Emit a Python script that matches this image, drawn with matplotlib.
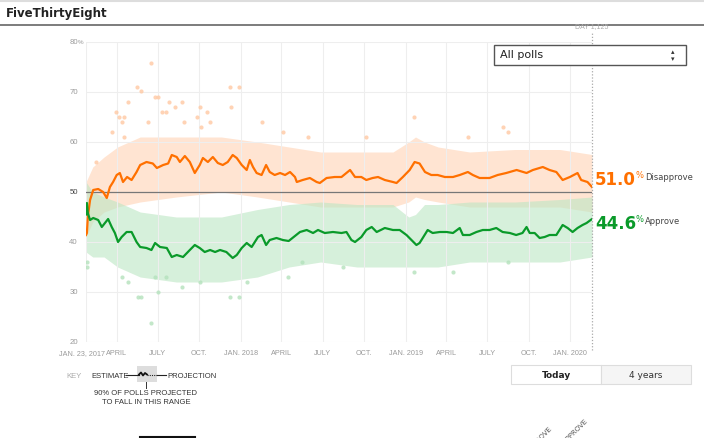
import numpy as np
import matplotlib
matplotlib.use('Agg')
import matplotlib.pyplot as plt
import matplotlib.transforms as mtransforms
from matplotlib.patches import Rectangle
from matplotlib.lines import Line2D

# days since Jan. 23, 2017
dis_days = [0, 2, 4, 9, 16, 27, 38, 46, 53, 60, 68, 75, 82, 91, 101, 112, 120, 134, 148, 157,
            171, 182, 190, 201, 208, 219, 230, 241, 252, 259, 270, 281, 292, 303, 314, 325, 334,
            345, 356, 363, 370, 378, 389, 399, 407, 418, 430, 441, 452, 463, 467, 480, 496, 511,
            518, 533, 551, 566, 585, 596, 610, 621, 635, 647, 662, 680, 688, 702, 717, 728, 739,
            751, 765, 779, 795, 813, 828, 846, 857, 872, 894, 912, 931, 954, 976, 990, 1012,
            1027, 1042, 1056, 1072, 1089, 1097, 1111, 1121]
disapprove = [41.4, 41.8, 45.0, 48.4, 50.4, 50.6, 50.0, 48.8, 51.0, 52.0, 53.4, 53.8, 52.0, 53.0,
              52.4, 54.0, 55.4, 56.0, 55.7, 54.8, 55.4, 55.7, 57.4, 57.0, 56.0, 57.2, 56.0, 53.8,
              55.4, 56.8, 56.0, 57.0, 55.8, 55.4, 56.0, 57.4, 56.8, 55.4, 54.4, 56.4, 55.0, 53.8,
              53.4, 55.4, 54.0, 53.4, 53.8, 53.4, 54.0, 53.0, 52.0, 52.4, 52.8, 52.0, 51.8, 52.8,
              53.0, 53.0, 54.4, 53.0, 53.0, 52.4, 52.8, 53.0, 52.4, 52.0, 51.8, 53.0, 54.4, 56.0,
              55.7, 54.0, 53.4, 53.4, 53.0, 53.0, 53.4, 54.0, 53.4, 52.8, 52.8, 53.4, 53.8, 54.4,
              53.8, 54.4, 55.0, 54.4, 54.0, 52.4, 53.0, 53.8, 52.4, 52.0, 51.0]

app_days = [0, 2, 4, 9, 16, 27, 35, 42, 49, 57, 64, 71, 79, 90, 101, 112, 120, 134, 145, 153,
            164, 179, 190, 201, 215, 230, 241, 252, 263, 275, 286, 297, 311, 325, 334, 345, 356,
            367, 381, 389, 399, 407, 422, 436, 449, 474, 489, 503, 514, 529, 547, 566, 577, 588,
            596, 610, 621, 633, 644, 662, 680, 695, 710, 721, 732, 739, 746, 757, 768, 784, 799,
            813, 828, 835, 850, 865, 879, 894, 909, 923, 939, 953, 967, 976, 983, 994, 1005,
            1016, 1027, 1042, 1056, 1067, 1078, 1089, 1100, 1109, 1121]
approve = [45.5, 47.8, 45.8, 44.4, 44.8, 44.4, 43.0, 43.8, 44.6, 43.0, 41.8, 40.0, 41.0, 42.0,
           42.0, 40.0, 39.0, 38.8, 38.4, 39.8, 39.0, 38.8, 37.0, 37.4, 37.0, 38.4, 39.4, 38.8,
           38.0, 38.4, 38.0, 38.4, 38.0, 36.8, 37.4, 38.8, 39.8, 39.0, 41.0, 41.4, 39.4, 40.4,
           40.8, 40.4, 40.2, 42.0, 42.4, 41.8, 42.4, 41.8, 42.0, 41.8, 42.0, 40.4, 40.0, 41.0,
           42.4, 43.0, 42.0, 42.8, 42.4, 42.4, 41.4, 40.4, 39.4, 39.8, 40.8, 42.4, 41.8, 42.0,
           42.0, 41.8, 42.8, 41.4, 41.4, 42.0, 42.4, 42.4, 42.8, 42.0, 41.8, 41.4, 41.8, 43.0,
           41.8, 41.8, 40.8, 41.0, 41.4, 41.4, 43.4, 42.8, 42.0, 42.8, 43.4, 43.8, 44.6]

# spread of individual polls
band_days = [0, 15, 40, 70, 120, 200, 300, 380, 450, 520, 600, 680, 715, 730, 750, 780, 850,
             950, 1050, 1121]
dis_lo = [41, 44, 46, 47, 48, 49, 50, 49, 48, 47, 47, 47, 48, 49, 48.5, 48, 47, 47, 47, 46]
dis_hi = [52, 55, 57, 59, 61, 61, 61, 60, 59, 58, 58, 58, 60, 61, 60, 59, 58, 58.5, 58.5, 57.5]
app_lo = [38, 37, 37, 35, 33, 32, 32, 33, 35, 36, 35, 35, 35, 35, 35, 35, 36, 36, 36, 37]
app_hi = [52, 50, 49, 48, 46, 45, 45, 46.5, 47.5, 48, 47.5, 47.5, 45, 45.5, 47.5, 47.5, 48, 48,
          48.5, 49]

# outlying polls
dis_out_days = [145, 114, 122, 153, 159, 66, 73, 84, 79, 94, 169, 177, 184, 197, 212, 218, 138,
                58, 84, 252, 245, 255, 267, 275, 319, 338, 321, 391, 436, 492, 621, 726, 846,
                923, 936, 22]
dis_out = [75.9, 71.1, 70.2, 69.1, 69.1, 66.1, 65, 65, 64, 68, 66, 66, 68, 67, 68, 64, 64, 62,
           61, 67, 65, 63, 66, 64, 71.1, 71.1, 67, 64, 62, 61, 61, 65, 61, 63, 62, 56]
app_out_days = [145, 116, 122, 160, 319, 338, 94, 153, 177, 212, 252, 356, 79, 2, 2, 448, 570,
                726, 812, 936, 478]
app_out = [23.9, 29.1, 29.1, 30.1, 29.1, 29.1, 32.1, 33.1, 33, 31, 32, 32, 33, 36, 35, 33, 35,
           34, 34, 36, 36]

tick_dates = ['2017-01-23', '2017-04-01', '2017-07-01', '2017-10-01', '2018-01-01',
              '2018-04-01', '2018-07-01', '2018-10-01', '2019-01-01', '2019-04-01',
              '2019-07-01', '2019-10-01', '2020-01-01']
tick_labels = ['JAN. 23, 2017', 'APRIL', 'JULY', 'OCT.', 'JAN. 2018', 'APRIL', 'JULY', 'OCT.',
               'JAN. 2019', 'APRIL', 'JULY', 'OCT.', 'JAN. 2020']

ORANGE = '#ff7000'
GREEN = '#0a9a2a'
W, H = 704, 438


def fx(x):
    return x / W


def fy(y):
    return 1 - y / H


fig = plt.figure(figsize=(W / 100, H / 100), dpi=100)
ax = fig.add_axes([fx(86), fy(342), (592 - 86) / W, 300 / H])

ax.fill_between(band_days, dis_lo, dis_hi, color='#ffcfad', alpha=0.55, lw=0, zorder=1)
ax.fill_between(band_days, app_lo, app_hi, color='#bce6c3', alpha=0.6, lw=0, zorder=1)
ax.scatter(dis_out_days, dis_out, s=9, color='#ffc9a3', alpha=0.8, lw=0, zorder=2)
ax.scatter(app_out_days, app_out, s=9, color='#b4e2bc', alpha=0.8, lw=0, zorder=2)
ax.axhline(50, color='#777777', lw=0.9, zorder=3)
ax.plot(dis_days, disapprove, color=ORANGE, lw=1.6, zorder=4)
ax.plot(app_days, approve, color=GREEN, lw=1.6, zorder=4)

t0 = np.datetime64('2017-01-23')
ticks = [(np.datetime64(d) - t0).astype(int) for d in tick_dates]
ax.set_xticks(ticks)
ax.set_xticklabels(tick_labels, family='Liberation Sans')
ax.set_yticks([20, 30, 40, 50, 60, 70, 80])
ax.set_yticklabels(['20', '30', '40', '50', '60', '70', '80'], family='Liberation Sans')
ax.set_xlim(0, 1121)
ax.set_ylim(20, 80)
ax.tick_params(length=0, labelsize=5.2, labelcolor='#9a9a9a')
ax.tick_params(axis='y', labelsize=5.6, pad=5.8)
ax.tick_params(axis='x', pad=6)
ax.get_yticklabels()[3].set_color('#444444')
# nudge the first date label so it clears "APRIL"
first = ax.get_xticklabels()[0]
first.set_transform(first.get_transform() +
                    mtransforms.ScaledTranslation(-4 / 100, 0, fig.dpi_scale_trans))
ax.grid(True, color='#eeeeee', lw=0.8, zorder=0)
for s in ax.spines.values():
    s.set_visible(False)
ax.text(-0.0158, 80, '%', transform=ax.get_yaxis_transform(), ha='left', va='center',
        fontsize=4.5, color='#9a9a9a', family='Liberation Sans')

# today line
ax.axvline(1121, ymin=-0.027, ymax=1.033, color='#aaaaaa', lw=0.9, ls=(0, (1, 1.5)),
           clip_on=False, zorder=5)
fig.text(fx(592), fy(27), 'DAY 1,125', ha='center', va='center', fontsize=5, color='#aaaaaa',
         family='Liberation Sans')

# header
fig.text(fx(6), fy(13), 'FiveThirtyEight', fontsize=8.5, fontweight='bold', color='#222222',
         va='center', ha='left')
fig.add_artist(Line2D([0, 1], [fy(25), fy(25)], color='#666666', lw=1.2))
fig.add_artist(Line2D([0, 1], [fy(0.5), fy(0.5)], color='#dddddd', lw=1.5))

# dropdown
fig.add_artist(Rectangle((fx(494), fy(65)), 192 / W, 20 / H, facecolor='white',
                         edgecolor='#555555', lw=1, zorder=10))
fig.text(fx(500), fy(55.5), 'All polls', fontsize=8, color='#222222', va='center', zorder=11)
fig.text(fx(673), fy(52), '\u25b4', fontsize=5, color='#333333', ha='center', va='center',
         zorder=11)
fig.text(fx(673), fy(59), '\u25be', fontsize=5, color='#333333', ha='center', va='center',
         zorder=11)

# end labels
fig.text(fx(595), fy(180), '%.1f' % disapprove[-1], fontsize=12, fontweight='bold',
         color=ORANGE, va='center', ha='left')
fig.text(fx(636), fy(175), '%', fontsize=6, color=ORANGE, va='center', ha='left')
fig.text(fx(645), fy(177), 'Disapprove', fontsize=6, color='#444444', va='center', ha='left')
fig.text(fx(595), fy(224), '%.1f' % approve[-1], fontsize=12, fontweight='bold',
         color=GREEN, va='center', ha='left')
fig.text(fx(636), fy(219), '%', fontsize=6, color=GREEN, va='center', ha='left')
fig.text(fx(645), fy(221), 'Approve', fontsize=6, color='#444444', va='center', ha='left')

# key
kf = dict(fontsize=5.5, va='center', family='Liberation Sans')
fig.text(fx(66), fy(376), 'KEY', color='#aaaaaa', **kf)
fig.text(fx(91), fy(376), 'ESTIMATE', color='#333333', **kf)
fig.text(fx(167), fy(376), 'PROJECTION', color='#333333', **kf)
fig.text(fx(146), fy(393.5), '90% OF POLLS PROJECTED', color='#333333', ha='center', **kf)
fig.text(fx(146), fy(402.5), 'TO FALL IN THIS RANGE', color='#333333', ha='center', **kf)
fig.add_artist(Rectangle((fx(137), fy(382)), 20 / W, 16 / H, facecolor='#dddddd', lw=0))
fig.add_artist(Line2D([fx(126), fx(139)], [fy(374.5), fy(374.5)], color='#222222', lw=0.8))
fig.add_artist(Line2D([fx(139), fx(141), fx(143), fx(145), fx(147)],
                      [fy(374.5), fy(372.5), fy(375.5), fy(373), fy(374.5)],
                      color='#111111', lw=1.3))
fig.add_artist(Line2D([fx(147), fx(157)], [fy(374.5), fy(374.5)], color='#222222', lw=0.8,
                      ls=(0, (1, 1))))
fig.add_artist(Line2D([fx(157), fx(166)], [fy(374.5), fy(374.5)], color='#222222', lw=0.8))
fig.add_artist(Line2D([fx(146), fx(146)], [fy(382), fy(388)], color='#333333', lw=0.7))

# time range buttons
fig.add_artist(Rectangle((fx(511), fy(384)), 90 / W, 19 / H, facecolor='white',
                         edgecolor='#dddddd', lw=0.8))
fig.add_artist(Rectangle((fx(601), fy(384)), 90 / W, 19 / H, facecolor='#f5f5f5',
                         edgecolor='#dddddd', lw=0.8))
fig.text(fx(556), fy(375), 'Today', fontsize=6.5, fontweight='bold', color='#222222',
         ha='center', va='center')
fig.text(fx(646), fy(375), '4 years', fontsize=6.5, color='#333333', ha='center', va='center')

# cut-off labels at bottom
fig.text(fx(553), fy(430), 'DISAPPROVE', rotation=45, rotation_mode='anchor', ha='right',
         va='bottom', fontsize=5, color='#555555')
fig.text(fx(589), fy(422), 'APPROVE', rotation=45, rotation_mode='anchor', ha='right',
         va='bottom', fontsize=5, color='#555555')
fig.add_artist(Line2D([fx(140), fx(195)], [fy(437), fy(437)], color='#111111', lw=1.5))

fig.savefig('out.png', dpi=100)
